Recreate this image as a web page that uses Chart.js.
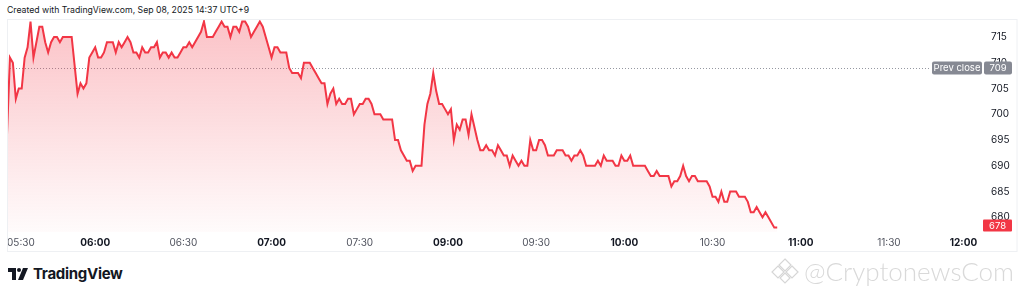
<!DOCTYPE html>
<html>
<head>
<meta charset="utf-8">
<script src="https://cdn.jsdelivr.net/npm/chart.js@4.4.1/dist/chart.umd.min.js"></script>
<style>
  body { margin: 0; background: #fff; width: 1024px; height: 296px; overflow: hidden; position: relative; font-family: Inter, "Noto Sans", sans-serif; }
  #header { position: absolute; left: 7px; top: 5px; font-size: 8.7px; color: #131722; white-space: nowrap; }
  #wrap { position: absolute; left: 0; top: 0; width: 1024px; height: 256px; }
  #brand { position: absolute; left: 8px; top: 264px; display: flex; align-items: center; gap: 5px; font-weight: 700; font-size: 15px; color: #131722; letter-spacing: -0.3px; }
  #watermark { position: absolute; left: 770px; top: 255px; display: flex; align-items: center; gap: 4px; color: #d9d9d9; font-family: Lato, sans-serif; font-weight: 300; font-size: 26px; }
</style>
</head>
<body>
<div id="header">Created with TradingView.com, Sep 08, 2025 14:37 UTC+9</div>
<div id="wrap"><canvas id="chart" width="1024" height="256"></canvas></div>
<div id="brand">
  <svg width="20" height="12" viewBox="0 0 20 12"><path d="M0 0h8v12H4V4H0z" fill="#131722"/><circle cx="11" cy="2" r="2" fill="#131722"/><path d="M15 0h5l-5 12h-5z" fill="#131722"/></svg>
  <span>TradingView</span>
</div>
<div id="watermark">
  <svg width="30" height="28" viewBox="0 0 30 28" fill="none" stroke="#d6d6d6" stroke-width="1.2"><path d="M15 2l6 6-6 6-6-6z"/><path d="M8 9l6 6-6 6-6-6z"/><path d="M22 9l6 6-6 6-6-6z"/><path d="M15 16l5 5-5 5-5-5z"/></svg>
  <span>@CryptonewsCom</span>
</div>
<script>
// minute bars (trading-time index) and prices
const bars = [0, 1, 2, 3, 4, 5, 6, 7, 8, 9, 11, 12, 13, 14, 15, 16, 17, 18, 19, 22,
  24, 25, 26, 27, 28, 29, 30, 31, 32, 33, 34, 36, 37, 38, 39, 40, 41, 42, 43, 44,
  45, 46, 47, 48, 49, 50, 51, 52, 53, 54, 55, 56, 57, 58, 59, 60, 61, 62, 63, 66,
  67, 68, 70, 71, 72, 73, 74, 75, 76, 77, 78, 79, 80, 81, 82, 83, 84, 85, 86, 87,
  88, 89, 90, 91, 92, 93, 95, 96, 97, 99, 100, 101, 103, 104, 105, 106, 107, 108, 109, 110,
  111, 112, 113, 114, 115, 116, 117, 118, 119, 120, 121, 122, 123, 124, 125, 127, 128, 131, 132, 133,
  134, 135, 136, 137, 138, 139, 141, 142, 143, 144, 145, 146, 147, 148, 149, 150, 151, 152, 153, 154,
  155, 156, 157, 158, 160, 161, 162, 163, 164, 165, 166, 167, 168, 169, 170, 171, 172, 173, 174, 175,
  176, 177, 178, 179, 180, 181, 182, 183, 184, 186, 187, 189, 190, 191, 192, 193, 194, 195, 196, 197,
  200, 201, 202, 203, 204, 206, 207, 208, 209, 210, 211, 212, 213, 217, 218, 219, 220, 221, 222, 225,
  226, 227, 228, 229, 230, 231, 232, 233, 234, 235, 238, 239, 240, 241, 242, 243, 244, 245, 246, 248,
  249, 251, 252, 253, 254, 255, 256, 257, 258, 259, 261, 262];
const prices = [696, 711, 710, 703, 705, 705, 711, 713, 718, 711, 717, 717, 714, 712, 714, 715, 715, 714, 715, 715,
  704, 706, 705, 706, 711, 712, 713, 711, 711, 712, 714, 714, 712, 714, 713, 714, 715, 714, 712, 712,
  711, 713, 712, 712, 713, 713, 714, 711, 712, 712, 711, 712, 711, 711, 712, 713, 713, 714, 713, 716,
  718, 715, 715, 716, 717, 718, 717, 717, 715, 717, 717, 716, 718, 718, 717, 715, 716, 717, 718, 717,
  715, 713, 711, 713, 713, 712, 712, 709, 708, 708, 707, 710, 710, 709, 708, 707, 706, 706, 702, 704,
  705, 702, 703, 702, 702, 703, 703, 700, 701, 702, 702, 703, 703, 702, 700, 700, 699, 699, 695, 695,
  693, 692, 691, 691, 689, 690, 690, 698, 702, 704, 708, 704.5, 702, 702, 701, 700, 701, 695, 698, 697,
  699, 699, 696, 700, 695, 693, 693, 694, 693, 693, 692, 694, 693, 692, 692, 690, 692, 691, 690, 691,
  690, 690, 695, 693, 693, 695, 695, 694, 692, 692, 693, 693, 692, 692, 691, 692, 692, 693, 692, 690,
  690, 691, 690, 692, 691, 691, 690, 690, 692, 691, 691, 692, 690, 690, 689, 688, 688, 689, 688, 688,
  686, 687, 687, 688, 690, 688, 687, 688, 688, 687, 687, 686, 684, 684, 683, 685, 683, 683, 685, 685,
  684, 684, 683, 681, 681, 682, 681, 680, 681, 680, 678, 678];

const tickBars = [0, 30, 60, 90, 120, 150, 180, 210, 240, 270, 300, 330];
const tickLabels = ['05:30', '06:00', '06:30', '07:00', '07:30', '09:00', '09:30', '10:00', '10:30', '11:00', '11:30', '12:00'];
const priceTicks = [680, 685, 690, 695, 700, 705, 710, 715];
const prevClose = 709;
const lastPrice = 678;

const red = '#F23645';

function labelFor(value) {
    return tickLabels[tickBars.indexOf(value)] || '';
}

function isHour(ctx) {
    return !!(ctx.tick && labelFor(ctx.tick.value).endsWith(':00'));
}

function roundRect(ctx, x, y, w, h, r) {
    ctx.beginPath();
    ctx.moveTo(x + r, y);
    ctx.arcTo(x + w, y, x + w, y + h, r);
    ctx.arcTo(x + w, y + h, x, y + h, r);
    ctx.arcTo(x, y + h, x, y, r);
    ctx.arcTo(x, y, x + w, y, r);
    ctx.closePath();
}

// prev close line, price boxes and the pane frame
const tvOverlay = {
    id: 'tvOverlay',
    beforeDatasetsDraw(chart) {
        const { ctx, chartArea } = chart;
        const y = Math.round(chart.scales.y.getPixelForValue(prevClose)) + 0.5;
        ctx.save();
        ctx.strokeStyle = '#9598a1';
        ctx.lineWidth = 1;
        ctx.setLineDash([1, 2]);
        ctx.beginPath();
        ctx.moveTo(chartArea.left, y);
        ctx.lineTo(chartArea.right - 52, y);
        ctx.stroke();
        ctx.restore();
    },
    afterDraw(chart) {
        const { ctx, chartArea } = chart;
        const yScale = chart.scales.y;
        ctx.save();
        ctx.strokeStyle = '#eef0f3';
        ctx.lineWidth = 1;
        ctx.strokeRect(chartArea.left + 0.5, chartArea.top - 0.5, chart.width - chartArea.left - 7.5, 232);

        ctx.font = '9.5px Inter, sans-serif';
        ctx.textBaseline = 'middle';
        ctx.textAlign = 'center';

        const yPrev = yScale.getPixelForValue(prevClose);
        ctx.fillStyle = '#868993';
        roundRect(ctx, chartArea.right - 51, yPrev - 6.5, 50, 13, 2);
        ctx.fill();
        roundRect(ctx, chartArea.right + 1, yPrev - 6.5, 28, 13, 2);
        ctx.fill();
        ctx.fillStyle = '#fff';
        ctx.fillText('Prev close', chartArea.right - 26, yPrev + 0.5);
        ctx.fillText(String(prevClose), chartArea.right + 15, yPrev + 0.5);

        const yLast = Math.min(yScale.getPixelForValue(lastPrice), chartArea.bottom - 6.5);
        ctx.fillStyle = red;
        roundRect(ctx, chartArea.right, yLast - 6, 29, 12, 1);
        ctx.fill();
        ctx.fillStyle = '#fff';
        ctx.fillText(String(lastPrice), chartArea.right + 14.5, yLast + 0.5);
        ctx.restore();
    }
};

const chart = new Chart(document.getElementById('chart'), {
    type: 'line',
    data: {
        datasets: [{
            data: bars.map((b, i) => ({ x: b, y: prices[i] })),
            borderColor: red,
            borderWidth: 2,
            pointRadius: 0,
            tension: 0,
            fill: 'start',
            backgroundColor: (context) => {
                const area = context.chart.chartArea;
                if (!area) return 'rgba(242,54,69,0.2)';
                const g = context.chart.ctx.createLinearGradient(0, area.top, 0, area.bottom);
                g.addColorStop(0, 'rgba(242,54,69,0.30)');
                g.addColorStop(1, 'rgba(242,54,69,0.02)');
                return g;
            }
        }]
    },
    options: {
        responsive: false,
        animation: false,
        layout: { padding: { left: 7, top: 20, right: 7, bottom: 0 } },
        plugins: { legend: { display: false }, tooltip: { enabled: false } },
        scales: {
            x: {
                type: 'linear',
                min: 0,
                max: 332,
                grid: { display: false, drawTicks: false },
                border: { display: false },
                afterBuildTicks: (scale) => { scale.ticks = tickBars.map(v => ({ value: v })); },
                afterFit: (scale) => { scale.height = 24; },
                ticks: {
                    autoSkip: false,
                    maxRotation: 0,
                    align: 'inner',
                    padding: 5,
                    callback: (value) => labelFor(value),
                    color: (ctx) => isHour(ctx) ? '#131722' : '#50535e',
                    font: (ctx) => ({ family: 'Inter', size: 10, weight: isHour(ctx) ? 'bold' : 'normal' })
                }
            },
            y: {
                position: 'right',
                min: 677.15,
                max: 718.3,
                grid: { display: false, drawTicks: false },
                border: { display: false },
                afterBuildTicks: (scale) => { scale.ticks = priceTicks.map(v => ({ value: v })); },
                afterFit: (scale) => { scale.width = 34; },
                ticks: {
                    padding: 8,
                    color: '#131722',
                    font: { family: 'Inter', size: 10 }
                }
            }
        }
    },
    plugins: [tvOverlay]
});
</script>
</body>
</html>
